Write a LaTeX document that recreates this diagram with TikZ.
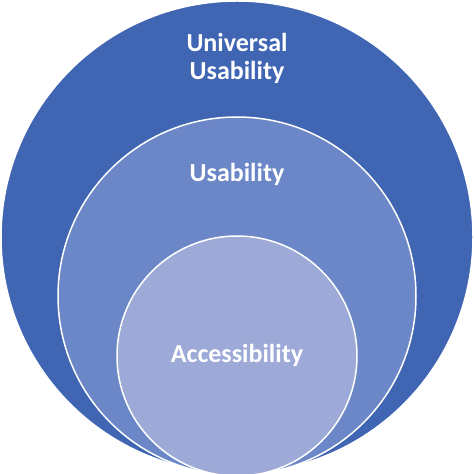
\documentclass[tikz,border=0pt]{standalone}
\usepackage{fontspec}
\setmainfont{Carlito}
\definecolor{outerblue}{HTML}{3F65B3}
\definecolor{midblue}{HTML}{6B87C7}
\definecolor{innerblue}{HTML}{9DAAD8}
\tikzstyle{ring}=[circle,inner sep=0pt,outer sep=0pt,draw=white,line width=1.5pt]
\tikzstyle{label}=[text=white,font=\fontsize{26}{28}\selectfont\bfseries,align=center,anchor=base]
\newcommand{\ring}[4]{
    \node[ring,fill=#3,minimum size=#4pt] at (#2) (#1) {};
}
\begin{document}
\begin{tikzpicture}[x=1pt,y=1pt]
    \useasboundingbox (0,0) rectangle (474,474);
    \clip (0,0) rectangle (474,474);
    \ring{universal}{237,237}{outerblue}{472}
    \ring{usability}{237,178}{midblue}{358}
    \ring{access}{237,118}{innerblue}{240}

    \node[label] at (237,394) (universaltext) {Universal\\Usability};
    \node[label] at (237,292) (usabilitytext) {Usability};
    \node[label] at (237,111) (accesstext) {Accessibility};
\end{tikzpicture}
\end{document}
